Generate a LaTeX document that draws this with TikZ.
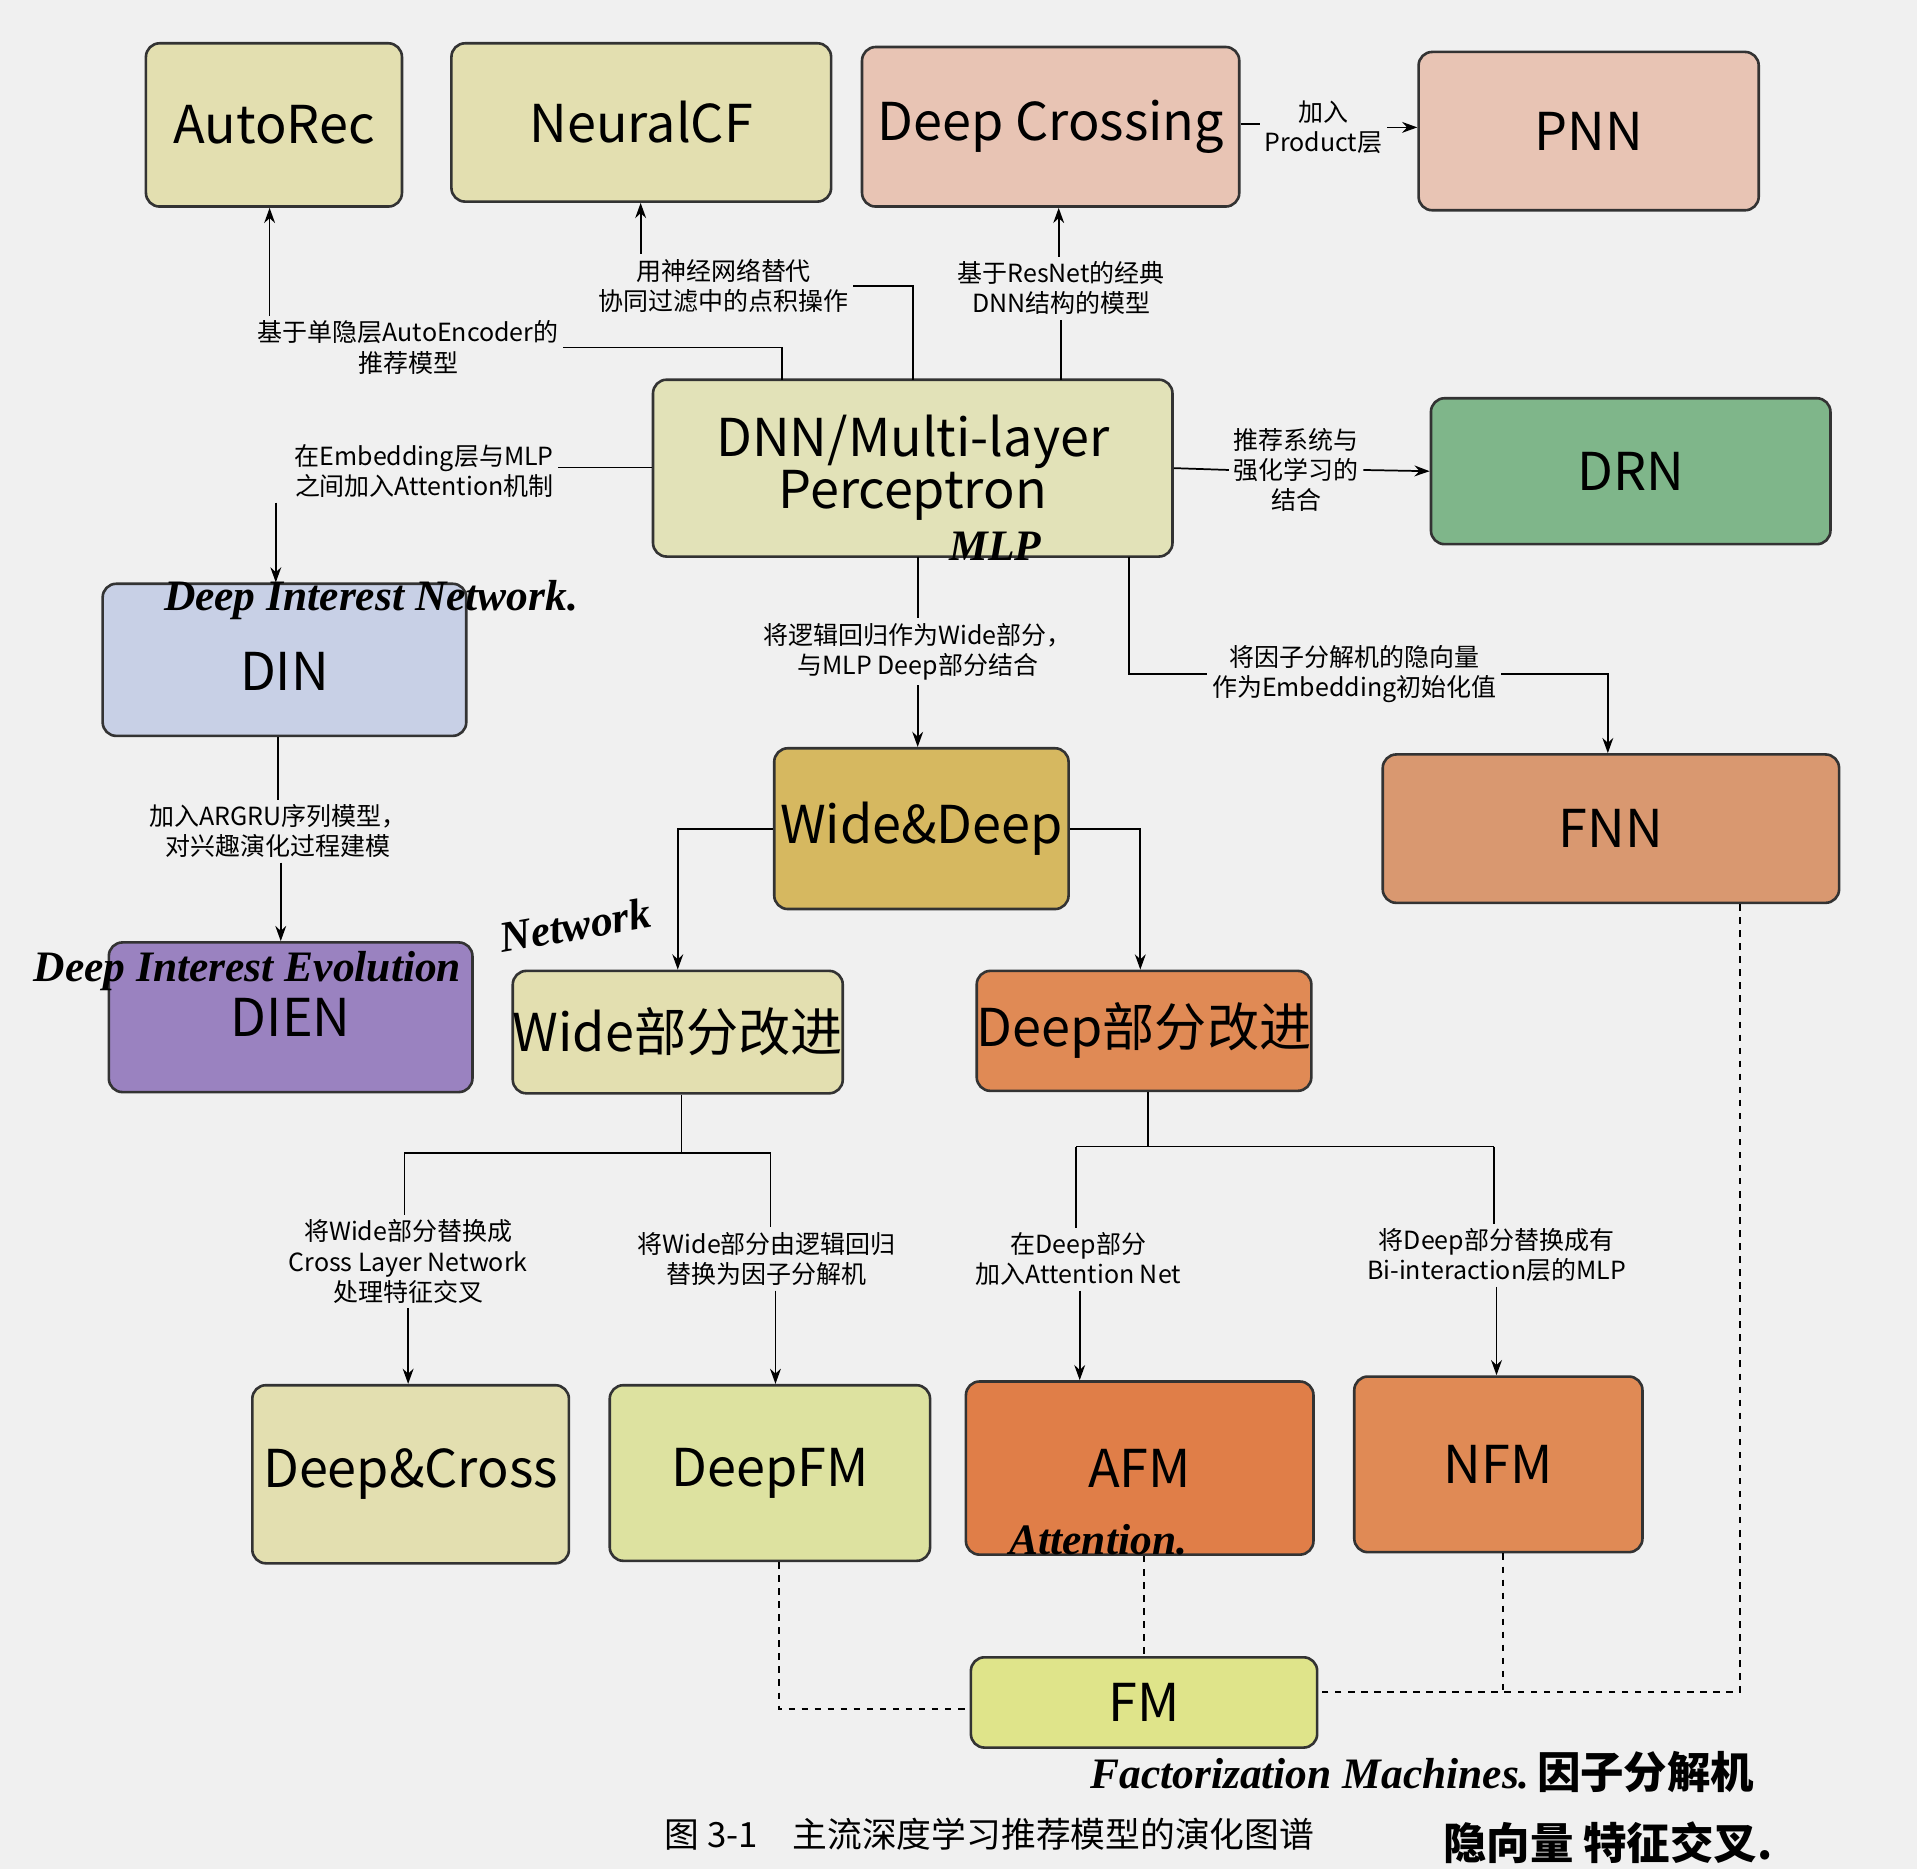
\documentclass[tikz,border=0pt]{standalone}
\usepackage{fontspec}
\setmainfont{Noto Sans CJK SC}
\newfontfamily\hand{Liberation Serif}
\usetikzlibrary{arrows.meta}
\begin{document}
\begin{tikzpicture}[x=0.02cm,y=-0.02cm,
 box/.style={draw=black!80,line width=1.2pt,rounded corners=0.22cm,inner sep=0pt,font=\fontsize{24}{28}\selectfont,align=center},
 lab/.style={font=\fontsize{11.5}{14}\selectfont,align=center,inner sep=2pt},
 ar/.style={-{Stealth[length=7pt,width=5pt]},line width=0.8pt},
 ln/.style={line width=0.8pt},
 dsh/.style={line width=0.8pt,dashed},
 hw/.style={font=\hand\bfseries\itshape\fontsize{20}{22}\selectfont,inner sep=0pt}]
\fill[black!6] (0,0) rectangle (1550,1511);
\useasboundingbox (0,0) rectangle (1550,1511);
\newcommand\bx[6]{\node[box,fill=#5,minimum width=#3*0.02cm,minimum height=#4*0.02cm] (#1) at (#2) {#6};}
\definecolor{cy}{HTML}{E3DFB0}\definecolor{cp}{HTML}{E8C4B4}\definecolor{cm}{HTML}{E2E2B8}
\definecolor{cg}{HTML}{7FB68A}\definecolor{cb}{HTML}{C8D0E6}\definecolor{cw}{HTML}{D6B860}
\definecolor{cf}{HTML}{D99870}\definecolor{cv}{HTML}{9A82C0}\definecolor{co}{HTML}{E08A55}
\definecolor{cl}{HTML}{DDE2A0}\definecolor{ca}{HTML}{E07E48}\definecolor{cfm}{HTML}{DFE48A}
\bx{autorec}{221.5,101}{207}{132}{cy}{AutoRec}
\bx{ncf}{518.5,99}{307}{128}{cy}{NeuralCF}
\bx{dcr}{849.5,102.5}{305}{129}{cp}{Deep Crossing}
\bx{pnn}{1284.5,106}{275}{128}{cp}{PNN}
\bx{mlp}{738,378.5}{420}{143}{cm}{DNN/Multi-layer\\[-4pt]Perceptron}
\bx{drn}{1318.5,381}{323}{118}{cg}{DRN}
\bx{din}{230,533.5}{294}{123}{cb}{\\DIN}
\bx{wd}{745,670}{238}{130}{cw}{Wide\&Deep}
\bx{fnn}{1302.5,670}{369}{120}{cf}{FNN}
\bx{dien}{235,822.5}{294}{121}{cv}{DIEN}
\bx{wi}{548,834.5}{262}{99}{cy}{Wide部分改进}
\bx{di}{925,833.5}{260}{97}{co}{Deep部分改进}
\bx{dc}{332,1192}{256}{144}{cy}{Deep\&Cross}
\bx{dfm}{622.5,1191}{259}{142}{cl}{DeepFM}
\bx{afm}{921.5,1187}{281}{140}{ca}{AFM}
\bx{nfm}{1211.5,1184}{233}{142}{co}{NFM}
\bx{fm}{925,1376.5}{280}{73}{cfm}{FM}
% labels
\node[lab] (l1) at (330,281) {基于单隐层AutoEncoder的\\推荐模型};
\node[lab] (l2) at (585,231) {用神经网络替代\\协同过滤中的点积操作};
\node[lab] (l3) at (858,233) {基于ResNet的经典\\DNN结构的模型};
\node[lab] (l4) at (1070,103) {加入\\Product层};
\node[lab] (l5) at (1048,380) {推荐系统与\\强化学习的\\结合};
\node[lab] (l6) at (343,381) {在Embedding层与MLP\\之间加入Attention机制};
\node[lab] (l7) at (742,527) {将逻辑回归作为Wide部分，\\与MLP Deep部分结合};
\node[lab] (l8) at (1095,545) {将因子分解机的隐向量\\作为Embedding初始化值};
\node[lab] (l9) at (225,672) {加入ARGRU序列模型，\\对兴趣演化过程建模};
\node[lab] (l10) at (330,1020) {将Wide部分替换成\\Cross Layer Network\\处理特征交叉};
\node[lab] (l11) at (620,1018) {将Wide部分由逻辑回归\\替换为因子分解机};
\node[lab] (l12) at (872,1018) {在Deep部分\\加入Attention Net};
\node[lab] (l13) at (1210,1015) {将Deep部分替换成有\\Bi-interaction层的MLP};
% connectors
\draw[ln] (632,307) |- (l1.east);
\draw[ar] (l1.north -| 218,0) -- (autorec.south -| 218,0);
\draw[ln] (738,307) |- (l2.east);
\draw[ar] (l2.north -| 518,0) -- (ncf.south -| 518,0);
\draw[ln] (858,307) -- (l3.south -| 858,0);
\draw[ar] (l3.north -| 856,0) -- (dcr.south -| 856,0);
\draw[ln] (dcr.east |- 0,100) -- (l4.west |- 0,100);
\draw[ar] (l4.east |- 0,103) -- (pnn.west |- 0,103);
\draw[ln] (mlp.west |- 0,378) -- (l6.east |- 0,378);
\draw[ln] (mlp.east) -- (l5.west);
\draw[ar] (l5.east) -- (drn.west);
\draw[ar] (l6.south -| 223,0) -- (din.north -| 223,0);
\draw[ln] (742,450) -- (l7.north);
\draw[ar] (l7.south) -- (wd.north -| 742,0);
\draw[ln] (913,450) |- (l8.west);
\draw[ar] (l8.east) -| (fnn.north -| 1300,0);
\draw[ln] (din.south -| 225,0) -- (l9.north -| 225,0);
\draw[ar] (l9.south -| 227,0) -- (dien.north -| 227,0);
\draw[ar] (wd.west) -| (wi.north);
\draw[ar] (wd.east) -| (di.north -| 922,0);
\draw[ln] (wi.south -| 551,0) -- (551,932);
\draw[ln] (327,932) -- (623,932);
\draw[ln] (327,932) -- (l10.north -| 327,0);
\draw[ln] (623,932) -- (l11.north -| 623,0);
\draw[ar] (l10.south -| 330,0) -- (dc.north -| 330,0);
\draw[ar] (l11.south -| 627,0) -- (dfm.north -| 627,0);
\draw[ln] (di.south -| 928,0) -- (928,927);
\draw[ln] (870,927) -- (1208,927);
\draw[ln] (870,927) -- (l12.north -| 870,0);
\draw[ln] (1208,927) -- (l13.north -| 1208,0);
\draw[ar] (l12.south -| 873,0) -- (afm.north -| 873,0);
\draw[ar] (l13.south -| 1210,0) -- (nfm.north -| 1210,0);
\draw[dsh] (dfm.south -| 630,0) |- (fm.west |- 0,1382);
\draw[dsh] (afm.south -| 925,0) -- (fm.north -| 925,0);
\draw[dsh] (fnn.south -| 1407,0) |- (fm.east |- 0,1368);
\draw[dsh] (nfm.south -| 1215,0) -- (1215,1368);
% handwritten notes
\node[hw] (h1) at (300,485) {Deep Interest Network.};
\node[hw] (h2) at (805,442) {MLP};
\node[hw] (h3) at (200,785) {Deep Interest Evolution};
\node[hw,rotate=10] (h4) at (465,748) {Network};
\node[hw] (h5) at (888,1245) {Attention.};
\node[hw] (h6) at (1150,1433) {Factorization Machines.\,{\rmfamily\bfseries 因子分解机}};
\node[hw] (h7) at (1300,1490) {{\rmfamily\bfseries 隐向量 特征交叉.}};
\node[font=\fontsize{16}{18}\selectfont] (cap) at (800,1483) {图 3-1　主流深度学习推荐模型的演化图谱};
\end{tikzpicture}
\end{document}
